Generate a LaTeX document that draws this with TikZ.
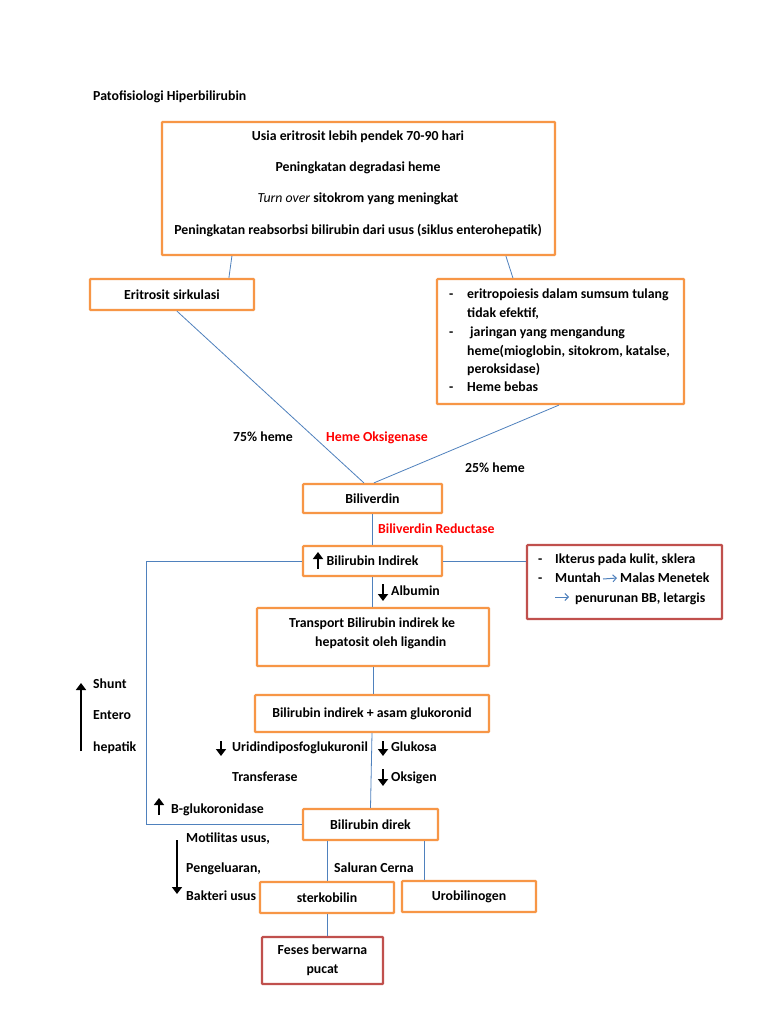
\documentclass[tikz,border=0pt]{standalone}
\usepackage{fontspec}
\setmainfont{Carlito}
\usetikzlibrary{arrows.meta}
\definecolor{bOrange}{HTML}{F79646}
\definecolor{bRed}{HTML}{C0504D}
\definecolor{bBlue}{HTML}{4F81BD}
\definecolor{tRed}{HTML}{FF0000}
\newcommand\fs{\fontsize{13.8}{16}\selectfont}
\begin{document}
\begin{tikzpicture}[x=1pt,y=-1pt,
  obox/.style={draw=bOrange, line width=2.2pt, inner sep=0, rounded corners=0.8pt, font=\fs\bfseries, align=center},
  rbox/.style={obox, draw=bRed},
  t/.style={inner sep=0, anchor=base west, font=\fs\bfseries},
  tc/.style={t, anchor=base},
  red/.style={text=tRed},
  conn/.style={draw=bBlue, line width=0.8pt},
  barrow/.style={line width=2.2pt, -{Triangle[length=7pt,width=10pt]}},
  sarrow/.style={draw=bBlue, line width=1pt, -{Straight Barb[length=3.5pt,width=7pt]}},
]
\fill[white] (0,0) rectangle (768,1024);
\useasboundingbox (0,0) rectangle (768,1024);

\node[t] (title) at (93,101) {Patofisiologi Hiperbilirubin};

% boxes
\node[obox, minimum width=393, minimum height=133] (top) at (358.5,188.5) {};
\node[tc] (top1) at (358,141) {Usia eritrosit lebih pendek 70-90 hari};
\node[tc] (top2) at (358,172) {Peningkatan degradasi heme};
\node[tc] (top3) at (358,203) {{\mdseries\itshape Turn over} sitokrom yang meningkat};
\node[tc] (top4) at (358,234) {Peningkatan reabsorbsi bilirubin dari usus (siklus enterohepatik)};

\node[obox, minimum width=164, minimum height=31] (eri) at (172,294.5) {Eritrosit sirkulasi};

\node[obox, minimum width=247, minimum height=125] (rl) at (560.5,341.5) {};
\node[t] (rd1) at (449,298) {-};
\node[t] (rl1) at (467,298) {eritropoiesis dalam sumsum tulang};
\node[t] (rl2) at (467,317) {tidak efektif,};
\node[t] (rd2) at (449,336) {-};
\node[t] (rl3) at (470,336) {jaringan yang mengandung};
\node[t] (rl4) at (467,355) {heme(mioglobin, sitokrom, katalse,};
\node[t] (rl5) at (467,373) {peroksidase)};
\node[t] (rd3) at (449,391) {-};
\node[t] (rl6) at (467,391) {Heme bebas};

\node[t] (p75) at (233,441) {75\% heme};
\node[t, red] (ho) at (326,441) {Heme Oksigenase};
\node[t] (p25) at (465,472) {25\% heme};

\node[obox, minimum width=139, minimum height=29] (bv) at (372.5,498.5) {Biliverdin};
\node[t, red] (br) at (378,533) {Biliverdin Reductase};

\node[obox, minimum width=139, minimum height=30] (bi) at (372.5,561) {Bilirubin Indirek};

\node[rbox, minimum width=195, minimum height=74] (sym) at (624.5,582) {};
\node[t] (sd1) at (538,563) {-};
\node[t] (s1) at (555,563) {Ikterus pada kulit, sklera};
\node[t] (sd2) at (538,582) {-};
\node[t] (s2a) at (555,582) {Muntah};
\node[t] (s2b) at (620,582) {Malas Menetek};
\node[t] (s3) at (575,602) {penurunan BB, letargis};
\coordinate (a1s) at (603,579); \coordinate (a1e) at (617,578);
\coordinate (a2s) at (555,597); \coordinate (a2e) at (569,597);
\draw[sarrow] (a1s) -- (a1e);
\draw[sarrow] (a2s) -- (a2e);

\node[t] (alb) at (391,595) {Albumin};

\node[obox, minimum width=232, minimum height=58] (tr) at (373,637) {};
\node[t] (tr1) at (289,627) {Transport Bilirubin indirek ke};
\node[t] (tr2) at (315,646) {hepatosit oleh ligandin};

\node[obox, minimum width=234, minimum height=37] (asam) at (372,713.5) {Bilirubin indirek + asam glukoronid};

\node[t] (udp1) at (232,751) {Uridindiposfoglukuronil};
\node[t] (udp2) at (232,781) {Transferase};
\node[t] (glu) at (391,751) {Glukosa};
\node[t] (oks) at (391,781) {Oksigen};
\node[t] (bglu) at (171,813) {B-glukoronidase};

\node[t] (sh1) at (93,688) {Shunt};
\node[t] (sh2) at (93,719) {Entero};
\node[t] (sh3) at (93,751) {hepatik};

\node[obox, minimum width=135, minimum height=31] (dir) at (370.5,824.5) {Bilirubin direk};

\node[t] (mo1) at (186,842) {Motilitas usus,};
\node[t] (mo2) at (186,872) {Pengeluaran,};
\node[t] (mo3) at (186,900) {Bakteri usus};
\node[t] (sal) at (334,872) {Saluran Cerna};

\node[obox, minimum width=134, minimum height=31] (ster) at (327,897.5) {sterkobilin};
\node[obox, minimum width=134, minimum height=31] (uro) at (469,896.5) {Urobilinogen};
\node[rbox, minimum width=121, minimum height=47, font=\fontsize{13.8}{19}\selectfont\bfseries] (fes) at (322.5,960.5) {Feses berwarna\\pucat};

% black arrows
\coordinate (u1s) at (318,569); \coordinate (u1e) at (318,552);
\coordinate (d1s) at (383,584); \coordinate (d1e) at (383,601);
\coordinate (d2s) at (221,741); \coordinate (d2e) at (221,756);
\coordinate (d3s) at (383,741); \coordinate (d3e) at (383,756);
\coordinate (d4s) at (383,769); \coordinate (d4e) at (383,786);
\coordinate (u2s) at (159,815); \coordinate (u2e) at (159,798);
\coordinate (u3s) at (81,751); \coordinate (u3e) at (81,683);
\coordinate (d5s) at (177,840); \coordinate (d5e) at (177,894);
\draw[barrow] (u1s) -- (u1e);
\draw[barrow] (d1s) -- (d1e);
\draw[barrow] (d2s) -- (d2e);
\draw[barrow] (d3s) -- (d3e);
\draw[barrow] (d4s) -- (d4e);
\draw[barrow] (u2s) -- (u2e);
\draw[barrow] (u3s) -- (u3e);
\draw[barrow] (d5s) -- (d5e);

% connectors
\draw[conn] ([xshift=71pt]top.south west) -- ([xshift=140pt]eri.north west);
\draw[conn] ([xshift=345pt]top.south west) -- ([xshift=77pt]rl.north west);
\draw[conn] ([xshift=88pt]eri.south west) -- ([xshift=62pt]bv.north west);
\draw[conn] ([xshift=123pt]rl.south west) -- ([xshift=72pt]bv.north west);
\draw[conn] (bv.south) -- (bi.north);
\draw[conn] (bi.east) -- (bi.east -| sym.west);
\draw[conn] (bi.south) -- (bi.south |- tr.north);
\draw[conn] (tr.south) -- (tr.south |- asam.north);
\draw[conn] (asam.south) -- (dir.north);
\coordinate (loopx) at (146,0);
\draw[conn] (dir.west) -- (dir.west -| loopx) -- (bi.west -| loopx) -- (bi.west);
\draw[conn] (ster.north |- dir.south) -- (ster.north);
\draw[conn] ([xshift=23pt]uro.north west |- dir.south) -- ([xshift=23pt]uro.north west);
\draw[conn] (ster.south) -- (ster.south |- fes.north);
\end{tikzpicture}
\end{document}
